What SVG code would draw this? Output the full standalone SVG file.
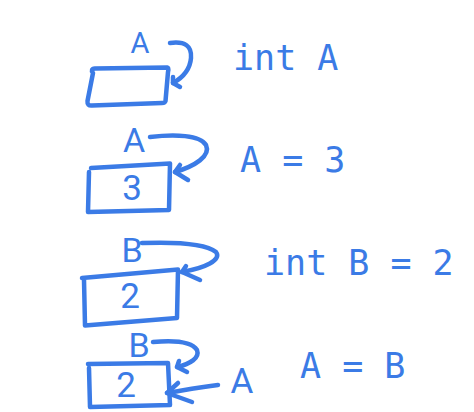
<svg xmlns="http://www.w3.org/2000/svg" width="474" height="412" viewBox="0 0 474 412">
<style>
.ink{fill:none;stroke:#3b7be6;stroke-width:4.5;stroke-linecap:round;stroke-linejoin:round}
.hand{fill:#3b7be6;font-family:Roboto,"Noto Sans",sans-serif;text-anchor:middle}
.code{fill:#3b7be6;font-family:"DejaVu Sans Mono","Liberation Mono",monospace;font-size:35px}
</style>
<rect width="474" height="412" fill="#ffffff"/>
<g id="node-A-decl">
<path class="ink" d="M93,73 Q90,69 95,68.5 L167,67.5 Q169,68 168,72 L165.5,101 Q165,103 162,103 L92,105.5 Q87,106 87.5,101 Z"/>
<text class="hand" x="140" y="53" font-size="29">A</text>
</g>
<g id="node-A-3">
<path class="ink" d="M91,168 L170,163.5 L169,210 L88,212 L89,172"/>
<text class="hand" x="134" y="152" font-size="34">A</text>
<text class="hand" x="132" y="200" font-size="35">3</text>
</g>
<g id="node-B-2">
<path class="ink" d="M82,278 L178,269.5 L177,318 L85,325.5 L84,280"/>
<text class="hand" x="132" y="262" font-size="34">B</text>
<text class="hand" x="130" y="308" font-size="35">2</text>
</g>
<g id="node-B-2b">
<path class="ink" d="M88,364 L168,363 L170,405 L90,407 L89,368"/>
<text class="hand" x="139" y="357" font-size="34">B</text>
<text class="hand" x="126" y="397" font-size="35">2</text>
</g>
<g id="node-A-ref">
<text class="hand" x="242" y="393" font-size="35">A</text>
</g>
<g id="code">
<text class="code" x="233" y="70">int A</text>
<text class="code" x="240" y="172">A = 3</text>
<text class="code" x="264" y="275">int B = 2</text>
<text class="code" x="300" y="378">A = B</text>
</g>
<g id="connectors">
<path class="ink" d="M170,43 C185,41 192,46 191,58 C190,70 182,78 173,83"/>
<path class="ink" d="M180,87 L173,83 L173,77"/>
<path class="ink" d="M150,137 C175,134 200,135 206,145 C211,156 195,166 175,172"/>
<path class="ink" d="M188,180 L175,172 L180,165"/>
<path class="ink" d="M142,243 C170,242 205,243 216,252 C222,260 205,268 182,272"/>
<path class="ink" d="M200,280 L182,272 L186,266"/>
<path class="ink" d="M153,342 C175,340 192,342 197,350 C200,358 190,364 177,367"/>
<path class="ink" d="M187,372 L177,367 L179,361"/>
<path class="ink" d="M218,385 C200,387 185,390 167,393"/>
<path class="ink" d="M178,383 L167,393 L192,402"/>
</g>
</svg>
